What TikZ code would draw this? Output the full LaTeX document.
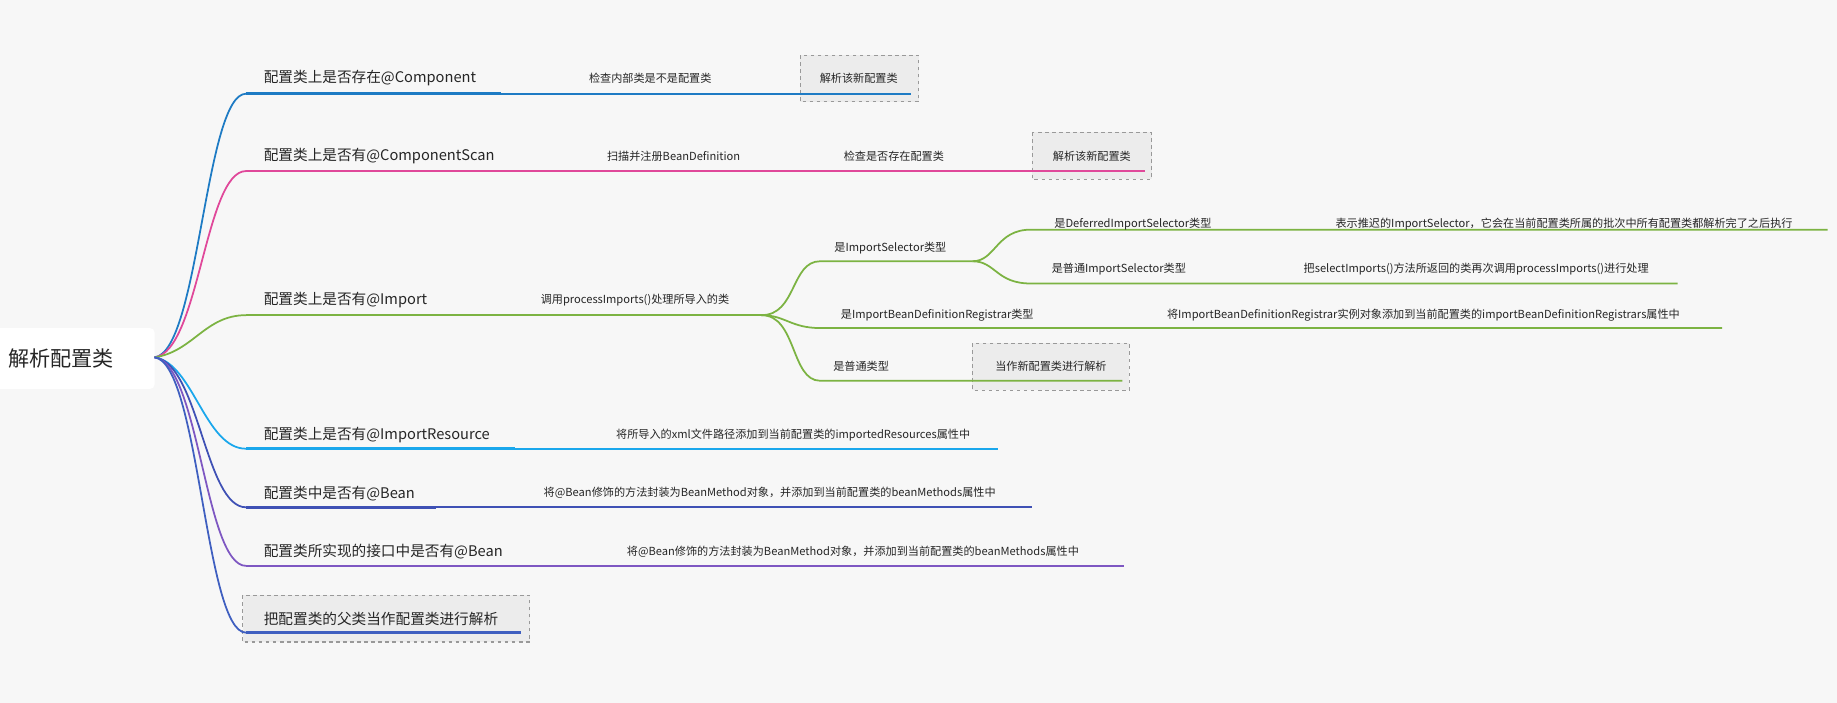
\documentclass[tikz,border=0pt]{standalone}
\usepackage{fontspec}
\setmainfont{Noto Sans CJK SC}
\begin{document}
\begin{tikzpicture}[x=1pt,y=-1pt,
  big/.style={font=\fontsize{12.5}{14}\selectfont,text=black!85,inner sep=0pt},
  sml/.style={font=\fontsize{9.5}{11}\selectfont,text=black!85,inner sep=0pt},
  dbox/.style={draw=gray!80,dashed,fill=gray!15,line width=0.9pt},
  thick1/.style={line width=2.2pt},
  thin1/.style={line width=1.5pt}]
\definecolor{cA}{HTML}{1E7BC4}\definecolor{cB}{HTML}{E0489A}\definecolor{cC}{HTML}{7CB342}
\definecolor{cD}{HTML}{1AA7EC}\definecolor{cE}{HTML}{3F51B5}\definecolor{cF}{HTML}{7E57C2}
\definecolor{cG}{HTML}{3F5FC0}
\fill[gray!6] (0,0) rectangle (1568,600);
\useasboundingbox (0,0) rectangle (1568,600);
\fill[white,rounded corners=4pt,drop shadow/.style={}] (-6,280) rectangle (132,332);
\node[font=\fontsize{18}{20}\selectfont,text=black!85] (root) at (52,306) {解析配置类};
\coordinate (r) at (132,305);
% boxes
\draw[dbox] (683,47) rectangle (784,87);
\draw[dbox] (881,113) rectangle (983,153);
\draw[dbox] (830,293) rectangle (964,333);
\draw[dbox] (207,508) rectangle (452,548);
% branch 1
\draw[cA,thin1] (r) .. controls (170,300) and (175,80) .. (210,80);
\draw[cA,thick1] (210,80) -- (428,80); \draw[cA,thin1] (428,80) -- (778,80);
\node[big,anchor=west] (a1) at (225,67) {配置类上是否存在@Component};
\node[sml] (a2) at (555,67) {检查内部类是不是配置类};
\node[sml] (a3) at (733,67) {解析该新配置类};
% branch 2
\draw[cB,thin1] (r) .. controls (170,300) and (175,146) .. (210,146);
\draw[cB,thick1] (210,146) -- (443,146); \draw[cB,thin1] (443,146) -- (977,146);
\node[big,anchor=west] (b1) at (225,133) {配置类上是否有@ComponentScan};
\node[sml] (b2) at (575,133) {扫描并注册BeanDefinition};
\node[sml] (b3) at (763,133) {检查是否存在配置类};
\node[sml] (b4) at (932,133) {解析该新配置类};
% branch 3
\draw[cC,thin1] (r) .. controls (165,300) and (175,269) .. (210,269);
\draw[cC,thick1] (210,269) -- (385,269); \draw[cC,thin1] (385,269) -- (650,269);
\node[big,anchor=west] (c1) at (225,256) {配置类上是否有@Import};
\node[sml] (c2) at (542,256) {调用processImports()处理所导入的类};
\coordinate (j) at (650,269);
\draw[cC,thin1] (j) .. controls (680,269) and (675,223) .. (700,223) -- (830,223);
\node[sml] (c3) at (760,212) {是ImportSelector类型};
\coordinate (k) at (830,223);
\draw[cC,thin1] (k) .. controls (850,223) and (850,196) .. (880,196) -- (1560,196);
\node[sml] (c4) at (967,191) {是DeferredImportSelector类型};
\node[sml] (c5) at (1335,191) {表示推迟的ImportSelector，它会在当前配置类所属的批次中所有配置类都解析完了之后执行};
\draw[cC,thin1] (k) .. controls (850,223) and (850,242) .. (880,242) -- (1432,242);
\node[sml] (c6) at (955,230) {是普通ImportSelector类型};
\node[sml] (c7) at (1260,230) {把selectImports()方法所返回的类再次调用processImports()进行处理};
\draw[cC,thin1] (j) .. controls (670,269) and (675,280) .. (700,280) -- (1470,280);
\node[sml] (c8) at (800,269) {是ImportBeanDefinitionRegistrar类型};
\node[sml] (c9) at (1215,269) {将ImportBeanDefinitionRegistrar实例对象添加到当前配置类的importBeanDefinitionRegistrars属性中};
\draw[cC,thin1] (j) .. controls (680,269) and (675,325) .. (700,325) -- (958,325);
\node[sml] (c10) at (735,313) {是普通类型};
\node[sml] (c11) at (897,313) {当作新配置类进行解析};
% branch 4
\draw[cD,thin1] (r) .. controls (165,310) and (175,383) .. (210,383);
\draw[cD,thick1] (210,383) -- (440,383); \draw[cD,thin1] (440,383) -- (852,383);
\node[big,anchor=west] (d1) at (225,371) {配置类上是否有@ImportResource};
\node[sml] (d2) at (677,371) {将所导入的xml文件路径添加到当前配置类的importedResources属性中};
% branch 5
\draw[cE,thin1] (r) .. controls (170,310) and (175,433) .. (210,433);
\draw[cE,thick1] (210,433) -- (372,433); \draw[cE,thin1] (372,433) -- (881,433);
\node[big,anchor=west] (e1) at (225,421) {配置类中是否有@Bean};
\node[sml] (e2) at (657,421) {将@Bean修饰的方法封装为BeanMethod对象，并添加到当前配置类的beanMethods属性中};
% branch 6
\draw[cF,thin1] (r) .. controls (170,310) and (175,483) .. (210,483);
\draw[cF,thick1] (210,483) -- (450,483); \draw[cF,thin1] (450,483) -- (959,483);
\node[big,anchor=west] (f1) at (225,471) {配置类所实现的接口中是否有@Bean};
\node[sml] (f2) at (728,471) {将@Bean修饰的方法封装为BeanMethod对象，并添加到当前配置类的beanMethods属性中};
% branch 7
\draw[cG,thin1] (r) .. controls (170,310) and (175,540) .. (210,540);
\draw[cG,thick1] (210,540) -- (445,540);
\node[big,anchor=west] (g1) at (225,528) {把配置类的父类当作配置类进行解析};
\end{tikzpicture}
\end{document}
